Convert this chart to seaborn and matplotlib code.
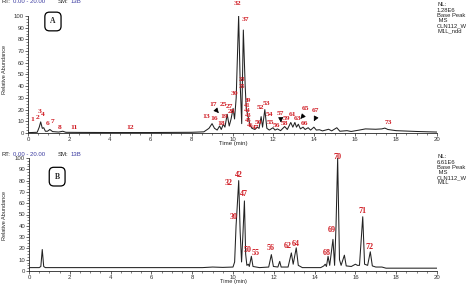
import matplotlib
matplotlib.use("Agg")
import matplotlib.pyplot as plt
from matplotlib.ticker import MultipleLocator
import seaborn as sns
import pandas as pd

# ---------------- data ----------------
time_A = [0.0, 0.45, 0.55, 0.62, 0.7, 0.77, 0.85, 0.95, 1.07, 1.2, 1.5, 1.7, 1.85, 2.5, 4.0, 6.0,
          8.0, 8.6, 8.85, 9.0, 9.12, 9.25, 9.37, 9.45, 9.55, 9.63, 9.74, 9.84, 9.93, 10.03, 10.1,
          10.18, 10.3, 10.38, 10.45, 10.53, 10.62, 10.67, 10.75, 10.85, 10.95, 11.1, 11.2, 11.3,
          11.4, 11.47, 11.58, 11.68, 11.8, 11.98, 12.08, 12.2, 12.35, 12.55, 12.68, 12.85, 12.95,
          13.05, 13.13, 13.22, 13.32, 13.45, 13.55, 13.7, 13.82, 13.98, 14.1, 14.25, 14.4, 14.7,
          14.85, 15.1, 15.25, 15.6, 15.8, 16.2, 16.5, 17.0, 17.3, 17.45, 17.6, 18.0, 19.0, 20.0]
abund_A = [0.3, 0.6, 5, 9.5, 4, 4.5, 1.5, 1.5, 3, 1.2, 0.8, 1.5, 0.6, 0.5, 0.4, 0.4,
           0.6, 1.0, 4, 8, 4, 2.5, 6, 3, 7.5, 5, 16, 6, 12, 21, 12,
           30, 100, 40, 8, 88, 40, 22, 15, 7, 4, 3, 5, 4,
           14, 5, 20, 4, 2.5, 4.5, 2.5, 3.5, 2, 5.5, 3, 9, 5,
           9, 5, 7.5, 3.5, 5, 3, 4.5, 2.5, 5, 2.5, 2.8, 1.8, 3.2,
           1.8, 4.5, 1.5, 2, 1.3, 2.5, 3.5, 3.2, 3.5, 4.2, 3, 2, 1.3, 0.8]

time_B = [0.0, 0.5, 0.58, 0.65, 0.72, 0.8, 8.5, 9.0, 9.5, 10.0, 10.08, 10.15, 10.2, 10.28,
          10.35, 10.42, 10.48, 10.56, 10.62, 10.68, 10.75, 10.8, 10.9, 10.98, 11.3, 11.75,
          11.88, 11.98, 12.2, 12.29, 12.36, 12.7, 12.86, 12.95, 13.1, 13.2, 13.4, 14.3, 14.45,
          14.52, 14.58, 14.66, 14.74, 14.9, 14.98, 15.05, 15.13, 15.22, 15.3, 15.46, 15.55,
          15.8, 16.0, 16.1, 16.2, 16.36, 16.45, 16.6, 16.73, 16.83, 17.0, 17.3, 17.5, 20.0]
abund_B = [3, 3, 4, 19, 4, 3, 3, 3.5, 3.2, 3.5, 8, 40, 55, 80,
           35, 8, 30, 62, 15, 5, 6, 4, 13, 4, 3, 3.5,
           14.5, 4, 3.5, 8.5, 3.5, 3.5, 16, 6, 20.5, 5, 3, 3, 4.5,
           6, 4, 13, 5, 28, 5, 40, 100, 10, 5, 14, 4.5,
           4, 6, 5, 5, 48, 6, 5, 17, 4.5, 3.5, 3.5, 2.5, 2.5]

label_text_A = ["1", "2", "3", "4", "6", "7", "8", "11", "12", "13", "16", "17", "18", "19",
                "25", "27", "28", "30", "32", "37", "33", "35", "39", "41", "44", "43", "45",
                "46", "47", "50", "52", "53", "54", "55", "56", "57", "58", "59", "61", "63",
                "65", "66", "67", "73"]
label_time_A = [0.21, 0.47, 0.59, 0.72, 0.94, 1.19, 1.53, 2.24, 4.98, 8.72, 9.10, 9.04, 9.44, 9.60,
                9.54, 9.87, 9.97, 10.10, 10.25, 10.62, 10.47, 10.47, 10.74, 10.74, 10.74, 10.76, 10.78,
                10.85, 11.15, 11.28, 11.37, 11.68, 11.82, 11.85, 12.15, 12.36, 12.55, 12.63, 12.92, 13.16,
                13.58, 13.53, 14.07, 17.64]
label_abund_A = [11.7, 13.4, 18.2, 15.4, 7.7, 9.7, 4.9, 4.9, 4.9, 14.5, 12.5, 24.0, 8.5, 14.0,
                 24.5, 22.5, 18.5, 34.0, 111.0, 97.0, 45.5, 40.0, 28.0, 23.5, 19.3, 15.1, 10.9,
                 6.0, 5.0, 9.1, 22.0, 25.4, 16.2, 9.1, 6.0, 16.8, 7.7, 12.5, 15.8, 12.0,
                 21.0, 7.7, 19.0, 9.1]
stacked_A = {"33", "35", "39", "41", "44", "43", "45", "46"}

label_text_B = ["32", "42", "30", "47", "50", "55", "56", "62", "64", "68", "69", "70", "71", "72"]
label_time_B = [9.79, 10.28, 10.05, 10.52, 10.72, 11.10, 11.83, 12.70, 13.09, 14.60, 14.82, 15.13, 16.36, 16.70]
label_abund_B = [77.5, 84.7, 47.7, 68.0, 18.8, 16.2, 20.2, 22.5, 24.0, 15.9, 36.0, 101.0, 53.5, 21.0]

info_A = ["NL:", "1.28E6", "Base Peak", " MS", "CLN112_W", "M1L_ndd"]
info_B = ["NL:", "6.61E6", "Base Peak", " MS", "CLN112_W", "M1L"]

# ---------------- figure ----------------
sns.set_style("ticks")
plt.rcParams["font.family"] = ["Liberation Sans", "DejaVu Sans"]

W, H = 474, 284
fig = plt.figure(figsize=(W / 100, H / 100), dpi=100)
axA = fig.add_axes([28 / W, 1 - 133 / H, 409 / W, 117 / H])
axB = fig.add_axes([29 / W, 1 - 271 / H, 408 / W, 113 / H])

RED = "#d01c24"
BLUE = "#3a3aa0"

dfA = pd.DataFrame({"time": time_A, "abundance": abund_A})
dfB = pd.DataFrame({"time": time_B, "abundance": abund_B})
sns.lineplot(data=dfA, x="time", y="abundance", ax=axA, color="#222222", lw=0.75, estimator=None)
sns.lineplot(data=dfB, x="time", y="abundance", ax=axB, color="#222222", lw=0.75, estimator=None)

for ax in (axA, axB):
    ax.set_xlim(0, 20)
    ax.set_ylim(0, 100)
    ax.set_xlabel("")
    ax.set_ylabel("")
    ax.xaxis.set_major_locator(MultipleLocator(2))
    ax.xaxis.set_minor_locator(MultipleLocator(0.5))
    ax.yaxis.set_major_locator(MultipleLocator(10))
    ax.yaxis.set_minor_locator(MultipleLocator(2.5))
    ax.tick_params(axis="both", which="major", labelsize=4.3, length=2.2, width=0.5, pad=0.6,
                   labelcolor="#333333")
    ax.tick_params(axis="both", which="minor", length=1.2, width=0.4)
    for s in ("top", "right"):
        ax.spines[s].set_visible(False)
    for s in ("left", "bottom"):
        ax.spines[s].set_linewidth(0.6)

lab_font = dict(family=["Liberation Serif", "DejaVu Serif"], fontweight="bold",
                color=RED, ha="center", va="center", clip_on=False)
for t, x, y in zip(label_text_A, label_time_A, label_abund_A):
    axA.text(x, y, t, fontsize=(4.6 if t in stacked_A else 5.4), **lab_font)
for t, x, y in zip(label_text_B, label_time_B, label_abund_B):
    axB.text(x, y, t, fontsize=5.8, **lab_font)

# arrows in panel A
arrow_kw = dict(arrowstyle="-|>,head_width=0.15,head_length=0.3", color="black", lw=0.5,
                shrinkA=0, shrinkB=0)
axA.annotate("", xy=(9.33, 17), xytext=(9.18, 20), arrowprops=arrow_kw)
axA.annotate("", xy=(12.37, 9), xytext=(12.36, 12.5), arrowprops=arrow_kw)
axA.annotate("", xy=(13.32, 12), xytext=(13.47, 15), arrowprops=arrow_kw)
axA.annotate("", xy=(13.98, 10), xytext=(14.08, 13.5), arrowprops=arrow_kw)

# panel boxes
box = dict(boxstyle="round,pad=0.7,rounding_size=0.6", fc="white", ec="black", lw=0.9)
axA.text(0.061, 0.953, "A", transform=axA.transAxes, ha="center", va="center",
         family=["Liberation Serif", "DejaVu Serif"], fontweight="bold", fontsize=5.5, bbox=box)
axB.text(0.069, 0.835, "B", transform=axB.transAxes, ha="center", va="center",
         family=["Liberation Serif", "DejaVu Serif"], fontweight="bold", fontsize=5.5, bbox=box)

# header texts
def header(y_px):
    y = 1 - y_px / H
    fig.text(2 / W, y, "RT:", fontsize=4.3, color="#222222", va="center")
    fig.text(13 / W, y, "0.00 - 20.00", fontsize=4.3, color=BLUE, va="center")
    fig.text(58 / W, y, "SM:", fontsize=4.3, color="#222222", va="center")
    fig.text(71 / W, y, "13B", fontsize=4.3, color=BLUE, va="center")

header(1.5)
header(154)

for i, line in enumerate(info_A):
    fig.text(437 / W, 1 - (5 + 5.2 * i) / H, line, fontsize=4.2, va="center", color="#222222")
for i, line in enumerate(info_B):
    fig.text(437 / W, 1 - (157 + 5.2 * i) / H, line, fontsize=4.2, va="center", color="#222222")

fig.text(233 / W, 1 - 143.5 / H, "Time (min)", fontsize=4.3, ha="center", va="center", color="#222222")
fig.text(233 / W, 1 - 281.4 / H, "Time (min)", fontsize=4.1, ha="center", va="center", color="#222222")
fig.text(5 / W, 1 - 69 / H, "Relative Abundance", rotation=90, fontsize=4.0, ha="center", va="center")
fig.text(5 / W, 1 - 216 / H, "Relative Abundance", rotation=90, fontsize=4.0, ha="center", va="center")

fig.savefig("out.png", dpi=100)
